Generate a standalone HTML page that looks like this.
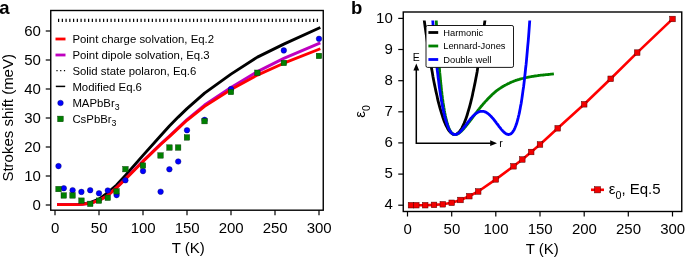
<!DOCTYPE html>
<html><head><meta charset="utf-8"><title>Figure</title>
<style>
html,body{margin:0;padding:0;background:#fff;}
svg{display:block;font-family:"Liberation Sans", sans-serif;fill:#000;}
svg text{fill:#000;}
</style></head>
<body>
<svg width="685" height="257" viewBox="0 0 685 257">
<rect x="0" y="0" width="685" height="257" fill="#fff"/>
<g id="panel-a">
<line x1="58" y1="20.4" x2="319" y2="20.4" stroke="#000" stroke-width="3.1" stroke-dasharray="1.2 2.55"/>
<polyline points="58.5,204.6 63.8,204.6 72.6,204.6 81.4,204.1 90.2,202.7 99.0,199.1 107.8,192.7 116.6,185.0 125.4,175.4 143.0,155.4 160.6,135.7 169.4,126.1 178.2,117.1 187.0,108.6 204.6,93.1 231.0,74.1 257.4,57.1 283.8,44.1 319.0,28.1" fill="none" stroke="#000" stroke-width="2.9" stroke-linejoin="round" stroke-linecap="square" />
<polyline points="58.5,204.6 63.8,204.6 72.6,204.6 81.4,204.4 90.2,203.3 99.0,200.4 107.8,195.4 116.6,187.6 125.4,178.9 143.0,161.1 160.6,144.1 169.4,136.0 178.2,127.7 187.0,119.5 204.6,105.0 231.0,87.4 257.4,71.6 283.8,58.4 319.0,43.5" fill="none" stroke="#bf00bf" stroke-width="2.9" stroke-linejoin="round" stroke-linecap="square" />
<polyline points="58.5,204.6 63.8,204.6 72.6,204.6 81.4,204.4 90.2,203.3 99.0,200.4 107.8,195.4 116.6,187.7 125.4,179.2 143.0,161.4 160.6,144.5 169.4,136.6 178.2,128.4 187.0,120.3 204.6,106.4 231.0,89.6 257.4,75.1 283.8,63.2 319.0,49.3" fill="none" stroke="#ff0000" stroke-width="2.9" stroke-linejoin="round" stroke-linecap="square" />
<circle cx="58.5" cy="166.1" r="2.8" fill="#0000ff" stroke="#000060" stroke-width="0.4"/>
<circle cx="63.8" cy="188.2" r="2.8" fill="#0000ff" stroke="#000060" stroke-width="0.4"/>
<circle cx="72.6" cy="190.2" r="2.8" fill="#0000ff" stroke="#000060" stroke-width="0.4"/>
<circle cx="81.4" cy="191.9" r="2.8" fill="#0000ff" stroke="#000060" stroke-width="0.4"/>
<circle cx="90.2" cy="190.2" r="2.8" fill="#0000ff" stroke="#000060" stroke-width="0.4"/>
<circle cx="99.0" cy="193.3" r="2.8" fill="#0000ff" stroke="#000060" stroke-width="0.4"/>
<circle cx="107.8" cy="190.5" r="2.8" fill="#0000ff" stroke="#000060" stroke-width="0.4"/>
<circle cx="116.6" cy="195.1" r="2.8" fill="#0000ff" stroke="#000060" stroke-width="0.4"/>
<circle cx="125.4" cy="180.3" r="2.8" fill="#0000ff" stroke="#000060" stroke-width="0.4"/>
<circle cx="143.0" cy="171.1" r="2.8" fill="#0000ff" stroke="#000060" stroke-width="0.4"/>
<circle cx="160.6" cy="191.7" r="2.8" fill="#0000ff" stroke="#000060" stroke-width="0.4"/>
<circle cx="169.4" cy="169.3" r="2.8" fill="#0000ff" stroke="#000060" stroke-width="0.4"/>
<circle cx="178.2" cy="161.5" r="2.8" fill="#0000ff" stroke="#000060" stroke-width="0.4"/>
<circle cx="187.0" cy="130.2" r="2.8" fill="#0000ff" stroke="#000060" stroke-width="0.4"/>
<circle cx="204.6" cy="119.9" r="2.8" fill="#0000ff" stroke="#000060" stroke-width="0.4"/>
<circle cx="231.0" cy="89.0" r="2.8" fill="#0000ff" stroke="#000060" stroke-width="0.4"/>
<circle cx="283.8" cy="50.4" r="2.8" fill="#0000ff" stroke="#000060" stroke-width="0.4"/>
<circle cx="319.0" cy="38.8" r="2.8" fill="#0000ff" stroke="#000060" stroke-width="0.4"/>
<rect x="55.8" y="186.3" width="5.5" height="5.5" fill="#008000" stroke="#003000" stroke-width="0.4"/>
<rect x="61.0" y="192.7" width="5.5" height="5.5" fill="#008000" stroke="#003000" stroke-width="0.4"/>
<rect x="69.8" y="192.7" width="5.5" height="5.5" fill="#008000" stroke="#003000" stroke-width="0.4"/>
<rect x="78.7" y="197.9" width="5.5" height="5.5" fill="#008000" stroke="#003000" stroke-width="0.4"/>
<rect x="87.5" y="201.1" width="5.5" height="5.5" fill="#008000" stroke="#003000" stroke-width="0.4"/>
<rect x="96.2" y="197.9" width="5.5" height="5.5" fill="#008000" stroke="#003000" stroke-width="0.4"/>
<rect x="105.0" y="195.0" width="5.5" height="5.5" fill="#008000" stroke="#003000" stroke-width="0.4"/>
<rect x="113.8" y="188.6" width="5.5" height="5.5" fill="#008000" stroke="#003000" stroke-width="0.4"/>
<rect x="122.7" y="166.4" width="5.5" height="5.5" fill="#008000" stroke="#003000" stroke-width="0.4"/>
<rect x="140.2" y="162.8" width="5.5" height="5.5" fill="#008000" stroke="#003000" stroke-width="0.4"/>
<rect x="157.8" y="152.7" width="5.5" height="5.5" fill="#008000" stroke="#003000" stroke-width="0.4"/>
<rect x="166.7" y="144.8" width="5.5" height="5.5" fill="#008000" stroke="#003000" stroke-width="0.4"/>
<rect x="175.4" y="144.8" width="5.5" height="5.5" fill="#008000" stroke="#003000" stroke-width="0.4"/>
<rect x="184.2" y="134.7" width="5.5" height="5.5" fill="#008000" stroke="#003000" stroke-width="0.4"/>
<rect x="201.8" y="118.4" width="5.5" height="5.5" fill="#008000" stroke="#003000" stroke-width="0.4"/>
<rect x="228.2" y="89.2" width="5.5" height="5.5" fill="#008000" stroke="#003000" stroke-width="0.4"/>
<rect x="254.6" y="70.0" width="5.5" height="5.5" fill="#008000" stroke="#003000" stroke-width="0.4"/>
<rect x="281.1" y="60.2" width="5.5" height="5.5" fill="#008000" stroke="#003000" stroke-width="0.4"/>
<rect x="316.2" y="53.2" width="5.5" height="5.5" fill="#008000" stroke="#003000" stroke-width="0.4"/>
<rect x="50.75" y="10.5" width="272.5" height="199.7" fill="none" stroke="#000" stroke-width="1.4"/>
<line x1="55.0" y1="210.2" x2="55.0" y2="215.2" stroke="#000" stroke-width="1.2"/>
<text x="55.2" y="233.2" font-size="15" text-anchor="middle">0</text>
<line x1="99.0" y1="210.2" x2="99.0" y2="215.2" stroke="#000" stroke-width="1.2"/>
<text x="99.2" y="233.2" font-size="15" text-anchor="middle">50</text>
<line x1="143.0" y1="210.2" x2="143.0" y2="215.2" stroke="#000" stroke-width="1.2"/>
<text x="143.2" y="233.2" font-size="15" text-anchor="middle">100</text>
<line x1="187.0" y1="210.2" x2="187.0" y2="215.2" stroke="#000" stroke-width="1.2"/>
<text x="187.2" y="233.2" font-size="15" text-anchor="middle">150</text>
<line x1="231.0" y1="210.2" x2="231.0" y2="215.2" stroke="#000" stroke-width="1.2"/>
<text x="231.2" y="233.2" font-size="15" text-anchor="middle">200</text>
<line x1="275.0" y1="210.2" x2="275.0" y2="215.2" stroke="#000" stroke-width="1.2"/>
<text x="275.2" y="233.2" font-size="15" text-anchor="middle">250</text>
<line x1="319.0" y1="210.2" x2="319.0" y2="215.2" stroke="#000" stroke-width="1.2"/>
<text x="319.2" y="233.2" font-size="15" text-anchor="middle">300</text>
<line x1="45.75" y1="205.0" x2="50.75" y2="205.0" stroke="#000" stroke-width="1.2"/>
<text x="40.9" y="209.8" font-size="15" text-anchor="end">0</text>
<line x1="45.75" y1="176.0" x2="50.75" y2="176.0" stroke="#000" stroke-width="1.2"/>
<text x="40.9" y="180.8" font-size="15" text-anchor="end">10</text>
<line x1="45.75" y1="147.0" x2="50.75" y2="147.0" stroke="#000" stroke-width="1.2"/>
<text x="40.9" y="151.8" font-size="15" text-anchor="end">20</text>
<line x1="45.75" y1="118.0" x2="50.75" y2="118.0" stroke="#000" stroke-width="1.2"/>
<text x="40.9" y="122.8" font-size="15" text-anchor="end">30</text>
<line x1="45.75" y1="89.0" x2="50.75" y2="89.0" stroke="#000" stroke-width="1.2"/>
<text x="40.9" y="93.8" font-size="15" text-anchor="end">40</text>
<line x1="45.75" y1="60.0" x2="50.75" y2="60.0" stroke="#000" stroke-width="1.2"/>
<text x="40.9" y="64.8" font-size="15" text-anchor="end">50</text>
<line x1="45.75" y1="31.0" x2="50.75" y2="31.0" stroke="#000" stroke-width="1.2"/>
<text x="40.9" y="35.8" font-size="15" text-anchor="end">60</text>
<text x="188.2" y="253.4" font-size="15" text-anchor="middle">T (K)</text>
<text transform="translate(13,117.8) rotate(-90)" font-size="15" text-anchor="middle">Strokes shift (meV)</text>
<text x="-0.8" y="14" font-size="18.5" font-weight="bold">a</text>
<line x1="55.5" y1="39" x2="65.5" y2="39" stroke="#ff0000" stroke-width="2.8"/>
<line x1="55.5" y1="55" x2="65.5" y2="55" stroke="#bf00bf" stroke-width="2.8"/>
<line x1="56.4" y1="70.7" x2="65.5" y2="70.7" stroke="#000" stroke-width="1.3" stroke-dasharray="1.2 2.55"/>
<line x1="55.8" y1="86.4" x2="65.2" y2="86.4" stroke="#000" stroke-width="1.5"/>
<circle cx="60.5" cy="103" r="2.8" fill="#0000ff" stroke="#000060" stroke-width="0.4"/>
<rect x="57.6" y="116.1" width="5.7" height="5.7" fill="#008000" stroke="#003000" stroke-width="0.4"/>
<text x="72.4" y="42.8" font-size="11.38">Point charge solvation, Eq.2</text>
<text x="72.4" y="58.8" font-size="11.38">Point dipole solvation, Eq.3</text>
<text x="72.4" y="74.8" font-size="11.38">Solid state polaron, Eq.6</text>
<text x="72.4" y="90.8" font-size="11.38">Modified Eq.6</text>
<text x="72.4" y="106.8" font-size="11.38">MAPbBr<tspan font-size="8.8" dy="3.2">3</tspan></text>
<text x="72.4" y="122.8" font-size="11.38">CsPbBr<tspan font-size="8.8" dy="3.2">3</tspan></text>
</g>
<g id="panel-b">
<clipPath id="ci"><rect x="417" y="20.5" width="150" height="122"/></clipPath>
<g clip-path="url(#ci)">
<polyline points="420.0,-13.9 420.6,-8.9 421.2,-4.0 421.8,0.8 422.4,5.6 422.9,10.2 423.5,14.8 424.1,19.3 424.7,23.7 425.3,28.0 425.9,32.2 426.5,36.4 427.1,40.4 427.6,44.4 428.2,48.3 428.8,52.1 429.4,55.8 430.0,59.5 430.6,63.0 431.2,66.5 431.8,69.8 432.4,73.1 432.9,76.3 433.5,79.4 434.1,82.5 434.7,85.4 435.3,88.3 435.9,91.1 436.5,93.7 437.1,96.3 437.6,98.9 438.2,101.3 438.8,103.6 439.4,105.9 440.0,108.1 440.6,110.2 441.2,112.2 441.8,114.1 442.4,115.9 442.9,117.6 443.5,119.3 444.1,120.9 444.7,122.4 445.3,123.8 445.9,125.1 446.5,126.3 447.1,127.4 447.6,128.5 448.2,129.5 448.8,130.4 449.4,131.2 450.0,131.9 450.6,132.5 451.2,133.0 451.8,133.5 452.4,133.9 452.9,134.2 453.5,134.4 454.1,134.5 454.7,134.5 455.3,134.4 455.9,134.3 456.5,134.1 457.1,133.8 457.6,133.3 458.2,132.9 458.8,132.3 459.4,131.6 460.0,130.9 460.6,130.1 461.2,129.1 461.8,128.1 462.4,127.0 462.9,125.9 463.5,124.6 464.1,123.3 464.7,121.8 465.3,120.3 465.9,118.7 466.5,117.0 467.1,115.3 467.6,113.4 468.2,111.4 468.8,109.4 469.4,107.3 470.0,105.1 470.6,102.8 471.2,100.4 471.8,98.0 472.4,95.4 472.9,92.8 473.5,90.1 474.1,87.3 474.7,84.4 475.3,81.4 475.9,78.3 476.5,75.2 477.1,72.0 477.6,68.6 478.2,65.2 478.8,61.7 479.4,58.2 480.0,54.5 480.6,50.8 481.2,46.9 481.8,43.0 482.4,39.0 482.9,34.9 483.5,30.7 484.1,26.5 484.7,22.1 485.3,17.7 485.9,13.2 486.5,8.5 487.1,3.9 487.6,-0.9 488.2,-5.8 488.8,-10.7 489.4,-15.8 490.0,-20.9" fill="none" stroke="#000" stroke-width="2.8" stroke-linejoin="round" stroke-linecap="square" />
<polyline points="433.2,-53.2 433.4,-46.0 433.7,-39.1 433.9,-32.4 434.2,-25.9 434.4,-19.6 434.7,-13.6 434.9,-7.7 435.2,-2.1 435.4,3.4 435.7,8.7 435.9,13.8 436.2,18.7 436.4,23.5 436.7,28.1 437.0,32.5 437.2,36.8 437.5,40.9 437.7,44.9 438.0,48.8 438.2,52.5 438.5,56.1 438.7,59.5 439.0,62.8 439.2,66.1 439.5,69.2 439.7,72.2 440.0,75.0 440.3,77.8 440.5,80.5 440.8,83.1 441.0,85.5 441.3,87.9 441.5,90.2 441.8,92.4 442.0,94.5 442.3,96.6 442.5,98.5 442.8,100.4 443.0,102.2 443.3,104.0 443.6,105.6 443.8,107.2 444.1,108.8 444.3,110.3 444.6,111.7 444.8,113.0 445.1,114.3 445.3,115.5 445.6,116.7 445.8,117.9 446.1,118.9 446.3,120.0 446.6,120.9 446.8,121.9 447.1,122.8 447.3,123.6 447.6,124.4 447.8,125.2 448.1,125.9 448.3,126.6 448.5,127.3 448.8,127.9 449.0,128.5 449.3,129.0 449.5,129.5 449.7,130.0 450.0,130.5 450.2,130.9 450.5,131.3 450.7,131.6 451.0,132.0 451.2,132.3 451.4,132.6 451.7,132.9 451.9,133.1 452.2,133.3 452.4,133.5 452.6,133.7 452.9,133.9 453.1,134.0 453.4,134.1 453.6,134.2 453.9,134.3 454.1,134.4 454.3,134.4 454.6,134.5 455.0,134.5 455.3,134.5 455.5,134.5 455.7,134.5 456.0,134.4 456.2,134.4 456.5,134.3 456.7,134.3 457.0,134.2 457.2,134.1 457.4,134.0 457.7,133.9 457.9,133.7 458.2,133.6 458.4,133.5 458.6,133.3 458.9,133.2 459.1,133.0 459.4,132.8 459.6,132.6 459.9,132.4 460.1,132.2 460.3,132.0 460.6,131.8 460.8,131.6 461.1,131.4 461.3,131.2 461.5,130.9 461.8,130.7 462.0,130.5 462.3,130.2 462.5,130.0 462.8,129.7 463.0,129.4 463.2,129.2 463.5,128.9 463.7,128.7 464.0,128.4 464.2,128.1 464.4,127.8 464.7,127.5 464.9,127.3 465.2,127.0 465.4,126.7 465.7,126.4 465.9,126.1 466.1,125.8 466.4,125.5 466.6,125.2 466.9,124.9 467.1,124.6 467.3,124.3 467.6,124.0 467.8,123.7 468.1,123.4 468.3,123.1 468.6,122.8 468.8,122.5 469.0,122.2 469.3,121.9 469.5,121.6 469.8,121.3 470.0,121.0 470.0,121.0 470.8,119.9 471.7,118.8 472.5,117.6 473.3,116.5 474.2,115.4 475.0,114.3 475.8,113.2 476.7,112.1 477.5,111.0 478.3,109.9 479.2,108.9 480.0,107.8 480.8,106.8 481.7,105.8 482.5,104.8 483.3,103.8 484.2,102.9 485.0,102.0 485.8,101.0 486.7,100.2 487.5,99.3 488.3,98.4 489.2,97.6 490.0,96.7 490.8,95.9 491.7,95.1 492.5,94.3 493.3,93.6 494.2,92.8 495.0,92.1 495.8,91.4 496.7,90.7 497.5,90.1 498.3,89.5 499.2,88.9 500.0,88.4 500.8,87.8 501.7,87.3 502.5,86.8 503.3,86.3 504.2,85.8 505.0,85.3 505.8,84.9 506.7,84.4 507.5,84.0 508.3,83.6 509.2,83.2 510.0,82.8 510.8,82.4 511.7,82.0 512.5,81.7 513.3,81.4 514.2,81.0 515.0,80.7 515.8,80.4 516.7,80.1 517.5,79.9 518.3,79.6 519.2,79.4 520.0,79.1 520.8,78.9 521.7,78.7 522.5,78.5 523.3,78.3 524.2,78.0 525.0,77.9 525.8,77.7 526.7,77.5 527.5,77.3 528.3,77.1 529.2,77.0 530.0,76.8 530.8,76.7 531.7,76.5 532.5,76.4 533.3,76.3 534.2,76.1 535.0,76.0 535.8,75.9 536.7,75.8 537.5,75.7 538.3,75.5 539.2,75.4 540.0,75.3 540.8,75.2 541.7,75.2 542.5,75.1 543.3,75.0 544.2,74.9 545.0,74.8 545.8,74.7 546.7,74.7 547.5,74.6 548.3,74.5 549.2,74.4 550.0,74.3 550.8,74.2 551.7,74.1 552.5,74.0" fill="none" stroke="#008000" stroke-width="2.8" stroke-linejoin="round" stroke-linecap="square" />
<polyline points="428.7,-45.0 429.1,-37.2 429.5,-29.7 430.0,-22.5 430.4,-15.4 430.8,-8.6 431.2,-1.9 431.6,4.5 432.0,10.7 432.5,16.7 432.9,22.5 433.3,28.1 433.7,33.5 434.2,38.8 434.6,43.8 435.1,48.7 435.5,53.4 436.0,57.9 436.4,62.2 436.9,66.4 437.3,70.4 437.8,74.3 438.2,78.0 438.7,81.5 439.1,85.0 439.5,88.2 440.0,91.3 440.4,94.3 440.9,97.1 441.3,99.9 441.8,102.4 442.2,104.9 442.7,107.2 443.1,109.4 443.6,111.5 444.0,113.5 444.5,115.4 444.9,117.2 445.4,118.8 445.8,120.4 446.3,121.9 446.7,123.2 447.1,124.5 447.6,125.7 448.0,126.8 448.4,127.8 448.8,128.7 449.2,129.6 449.6,130.3 450.1,131.0 450.5,131.7 450.9,132.2 451.3,132.7 451.7,133.1 452.2,133.5 452.6,133.8 453.0,134.0 453.4,134.2 453.8,134.4 454.2,134.5 455.1,134.5 455.5,134.5 455.9,134.4 456.3,134.3 456.7,134.2 457.1,134.0 457.6,133.8 458.0,133.6 458.4,133.3 458.8,133.0 459.2,132.7 459.7,132.3 460.1,131.9 460.5,131.5 460.9,131.1 461.3,130.7 461.7,130.2 462.2,129.7 462.6,129.2 463.0,128.7 463.4,128.2 463.8,127.7 464.2,127.1 464.7,126.6 465.1,126.0 465.5,125.5 465.9,124.9 466.3,124.4 466.8,123.8 467.2,123.2 467.6,122.7 468.0,122.1 468.4,121.6 468.8,121.0 469.3,120.5 469.7,120.0 470.1,119.4 470.5,118.9 470.9,118.4 471.3,117.9 471.8,117.5 472.2,117.0 472.6,116.5 473.0,116.1 473.4,115.7 473.9,115.3 474.3,114.9 474.7,114.5 475.1,114.2 475.5,113.8 475.9,113.5 476.4,113.2 476.8,112.9 477.2,112.7 477.6,112.4 478.0,112.2 478.4,112.0 478.9,111.8 479.3,111.7 479.7,111.6 480.1,111.5 480.5,111.4 481.0,111.3 481.4,111.3 481.8,111.3 482.2,111.3 482.6,111.3 483.0,111.3 483.5,111.4 483.9,111.5 484.3,111.6 484.7,111.8 485.1,111.9 485.6,112.1 486.0,112.3 486.4,112.5 486.8,112.8 487.2,113.1 487.6,113.3 488.1,113.7 488.5,114.0 488.9,114.3 489.3,114.7 489.7,115.1 490.1,115.5 490.6,115.9 491.0,116.3 491.4,116.8 491.8,117.2 492.2,117.7 492.7,118.2 493.1,118.7 493.5,119.2 493.9,119.7 494.3,120.2 494.7,120.8 495.2,121.3 495.6,121.8 496.0,122.4 496.4,123.0 496.8,123.5 497.2,124.1 497.7,124.6 498.1,125.2 498.5,125.7 498.9,126.3 499.3,126.8 499.8,127.4 500.2,127.9 500.6,128.4 501.0,129.0 501.4,129.5 501.8,130.0 502.3,130.4 502.7,130.9 503.1,131.3 503.5,131.7 503.9,132.1 504.3,132.5 504.8,132.8 505.2,133.2 505.6,133.5 506.0,133.7 506.4,133.9 506.9,134.1 507.3,134.3 507.7,134.4 508.1,134.5 508.5,134.5 508.9,134.5 509.4,134.4 509.8,134.3 510.2,134.1 510.6,133.9 511.0,133.7 511.4,133.3 511.9,132.9 512.3,132.5 512.7,132.0 513.1,131.4 513.5,130.7 514.0,130.0 514.4,129.2 514.8,128.3 515.2,127.3 515.6,126.3 516.0,125.1 516.5,123.9 516.9,122.6 517.3,121.2 517.7,119.7 518.1,118.1 518.5,116.3 519.0,114.5 519.4,112.6 519.8,110.6 520.2,108.4 520.6,106.1 521.1,103.7 521.5,101.2 521.9,98.6 522.3,95.8 522.7,92.9 523.1,89.9 523.6,86.7 524.0,83.3 524.4,79.9 524.8,76.2 525.2,72.5 525.6,68.5 526.1,64.4 526.5,60.2 526.9,55.7 527.3,51.1 527.7,46.4 528.2,41.4 528.6,36.3 529.0,31.0 529.4,25.5 529.8,19.8 530.2,13.8 530.7,7.7 531.1,1.4 531.5,-5.1 531.9,-11.8 532.3,-18.7 532.7,-25.9 533.2,-33.3 533.6,-40.9 534.0,-48.8" fill="none" stroke="#0000ff" stroke-width="2.8" stroke-linejoin="round" stroke-linecap="square" />
</g>
<path d="M416.3,68 V143.2 H492" fill="none" stroke="#000" stroke-width="1.5"/>
<path d="M416.3,63.6 L413.4,70.6 L419.2,70.6 Z" fill="#000"/>
<path d="M497,143.2 L490.2,140.3 L490.2,146.1 Z" fill="#000"/>
<text x="412.8" y="61.4" font-size="10.5">E</text>
<text x="499.3" y="146.5" font-size="10.5">r</text>
<rect x="426" y="25.5" width="87.5" height="41.9" rx="1.6" ry="1.6" fill="#fff" stroke="#000" stroke-width="0.9"/>
<line x1="428.4" y1="32.5" x2="438.2" y2="32.5" stroke="#000" stroke-width="2.8"/>
<text x="443.2" y="35.5" font-size="9.35">Harmonic</text>
<line x1="428.4" y1="46" x2="438.2" y2="46" stroke="#008000" stroke-width="2.8"/>
<text x="443.2" y="49.0" font-size="9.35">Lennard-Jones</text>
<line x1="428.4" y1="59.5" x2="438.2" y2="59.5" stroke="#0000ff" stroke-width="2.8"/>
<text x="443.2" y="62.5" font-size="9.35">Double well</text>
<polyline points="411.0,205.2 416.3,205.2 425.2,205.2 434.0,204.9 442.8,204.3 451.7,202.8 460.5,200.0 469.3,196.2 478.2,191.5 495.8,179.4 513.5,166.3 522.3,159.5 531.2,152.0 540.0,144.5 557.7,128.3 584.2,104.3 610.7,78.8 637.2,52.6 672.5,19.0" fill="none" stroke="#ff0000" stroke-width="2.6" stroke-linejoin="round" stroke-linecap="square" />
<rect x="408.2" y="202.4" width="5.6" height="5.6" fill="#f20000" stroke="#500000" stroke-width="0.5"/>
<rect x="413.5" y="202.4" width="5.6" height="5.6" fill="#f20000" stroke="#500000" stroke-width="0.5"/>
<rect x="422.4" y="202.4" width="5.6" height="5.6" fill="#f20000" stroke="#500000" stroke-width="0.5"/>
<rect x="431.2" y="202.1" width="5.6" height="5.6" fill="#f20000" stroke="#500000" stroke-width="0.5"/>
<rect x="440.0" y="201.5" width="5.6" height="5.6" fill="#f20000" stroke="#500000" stroke-width="0.5"/>
<rect x="448.9" y="200.0" width="5.6" height="5.6" fill="#f20000" stroke="#500000" stroke-width="0.5"/>
<rect x="457.7" y="197.2" width="5.6" height="5.6" fill="#f20000" stroke="#500000" stroke-width="0.5"/>
<rect x="466.5" y="193.4" width="5.6" height="5.6" fill="#f20000" stroke="#500000" stroke-width="0.5"/>
<rect x="475.4" y="188.7" width="5.6" height="5.6" fill="#f20000" stroke="#500000" stroke-width="0.5"/>
<rect x="493.0" y="176.6" width="5.6" height="5.6" fill="#f20000" stroke="#500000" stroke-width="0.5"/>
<rect x="510.7" y="163.5" width="5.6" height="5.6" fill="#f20000" stroke="#500000" stroke-width="0.5"/>
<rect x="519.5" y="156.7" width="5.6" height="5.6" fill="#f20000" stroke="#500000" stroke-width="0.5"/>
<rect x="528.4" y="149.2" width="5.6" height="5.6" fill="#f20000" stroke="#500000" stroke-width="0.5"/>
<rect x="537.2" y="141.7" width="5.6" height="5.6" fill="#f20000" stroke="#500000" stroke-width="0.5"/>
<rect x="554.9" y="125.5" width="5.6" height="5.6" fill="#f20000" stroke="#500000" stroke-width="0.5"/>
<rect x="581.4" y="101.5" width="5.6" height="5.6" fill="#f20000" stroke="#500000" stroke-width="0.5"/>
<rect x="607.9" y="76.0" width="5.6" height="5.6" fill="#f20000" stroke="#500000" stroke-width="0.5"/>
<rect x="634.4" y="49.8" width="5.6" height="5.6" fill="#f20000" stroke="#500000" stroke-width="0.5"/>
<rect x="669.7" y="16.2" width="5.6" height="5.6" fill="#f20000" stroke="#500000" stroke-width="0.5"/>
<rect x="403.25" y="12" width="278.5" height="199.5" fill="none" stroke="#000" stroke-width="1.4"/>
<line x1="407.5" y1="211.5" x2="407.5" y2="216.5" stroke="#000" stroke-width="1.2"/>
<text x="407.7" y="234.4" font-size="15" text-anchor="middle">0</text>
<line x1="451.7" y1="211.5" x2="451.7" y2="216.5" stroke="#000" stroke-width="1.2"/>
<text x="451.9" y="234.4" font-size="15" text-anchor="middle">50</text>
<line x1="495.8" y1="211.5" x2="495.8" y2="216.5" stroke="#000" stroke-width="1.2"/>
<text x="496.0" y="234.4" font-size="15" text-anchor="middle">100</text>
<line x1="540.0" y1="211.5" x2="540.0" y2="216.5" stroke="#000" stroke-width="1.2"/>
<text x="540.2" y="234.4" font-size="15" text-anchor="middle">150</text>
<line x1="584.2" y1="211.5" x2="584.2" y2="216.5" stroke="#000" stroke-width="1.2"/>
<text x="584.4" y="234.4" font-size="15" text-anchor="middle">200</text>
<line x1="628.3" y1="211.5" x2="628.3" y2="216.5" stroke="#000" stroke-width="1.2"/>
<text x="628.5" y="234.4" font-size="15" text-anchor="middle">250</text>
<line x1="672.5" y1="211.5" x2="672.5" y2="216.5" stroke="#000" stroke-width="1.2"/>
<text x="672.7" y="234.4" font-size="15" text-anchor="middle">300</text>
<line x1="398.25" y1="205.2" x2="403.25" y2="205.2" stroke="#000" stroke-width="1.2"/>
<text x="392.8" y="209.4" font-size="15" text-anchor="end">4</text>
<line x1="398.25" y1="174.1" x2="403.25" y2="174.1" stroke="#000" stroke-width="1.2"/>
<text x="392.8" y="178.3" font-size="15" text-anchor="end">5</text>
<line x1="398.25" y1="142.9" x2="403.25" y2="142.9" stroke="#000" stroke-width="1.2"/>
<text x="392.8" y="147.1" font-size="15" text-anchor="end">6</text>
<line x1="398.25" y1="111.8" x2="403.25" y2="111.8" stroke="#000" stroke-width="1.2"/>
<text x="392.8" y="116.0" font-size="15" text-anchor="end">7</text>
<line x1="398.25" y1="80.7" x2="403.25" y2="80.7" stroke="#000" stroke-width="1.2"/>
<text x="392.8" y="84.9" font-size="15" text-anchor="end">8</text>
<line x1="398.25" y1="49.5" x2="403.25" y2="49.5" stroke="#000" stroke-width="1.2"/>
<text x="392.8" y="53.7" font-size="15" text-anchor="end">9</text>
<line x1="398.25" y1="18.4" x2="403.25" y2="18.4" stroke="#000" stroke-width="1.2"/>
<text x="392.8" y="22.6" font-size="15" text-anchor="end">10</text>
<text x="542.3" y="254.2" font-size="15" text-anchor="middle">T (K)</text>
<text transform="translate(365.3,111.5) rotate(-90)" font-size="15" text-anchor="middle">ε<tspan font-size="10.5" dy="4.5">0</tspan></text>
<text x="351" y="14" font-size="18.5" font-weight="bold">b</text>
<line x1="591" y1="189.8" x2="604" y2="189.8" stroke="#ff0000" stroke-width="2.6"/>
<rect x="594.4" y="186.7" width="6.2" height="6.2" fill="#f20000" stroke="#500000" stroke-width="0.5"/>
<text x="608.8" y="194.4" font-size="15">ε<tspan font-size="10.7" dy="5">0</tspan><tspan dy="-5">, Eq.5</tspan></text>
</g>
</svg>
</body></html>
